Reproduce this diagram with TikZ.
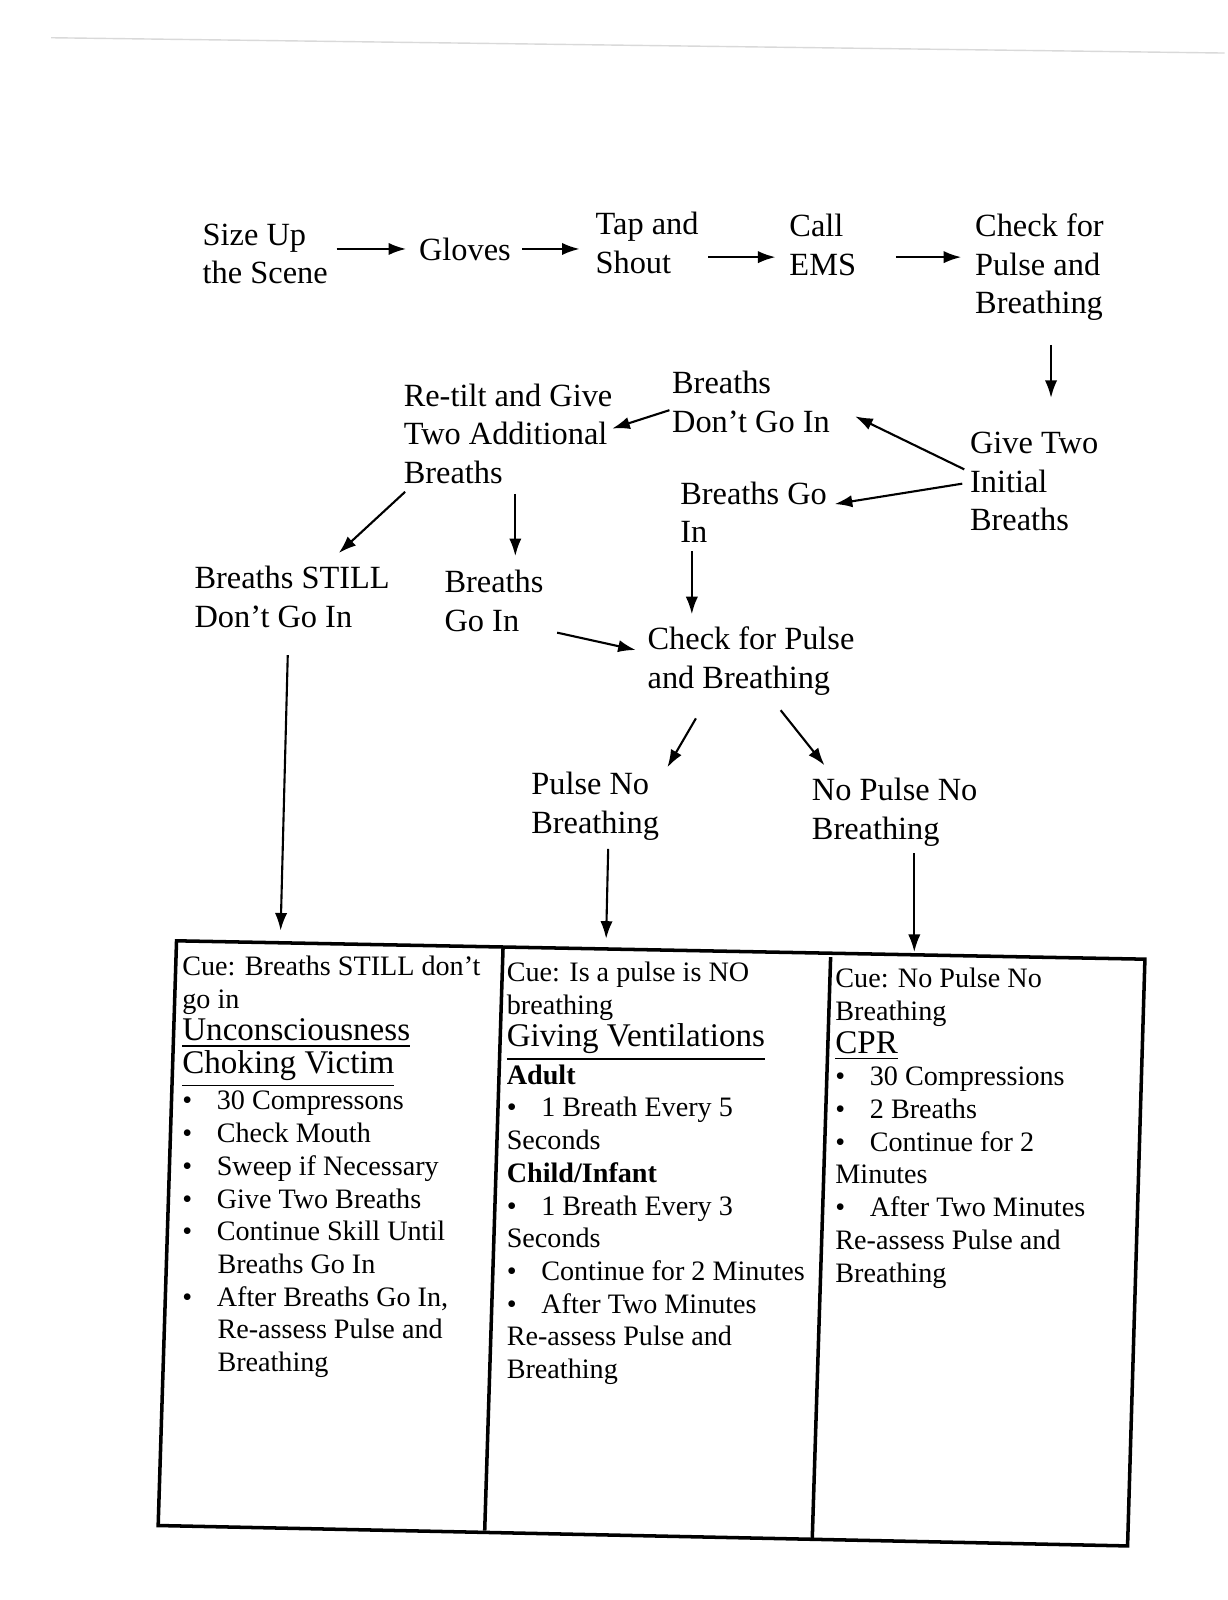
\documentclass[tikz,border=0pt]{standalone}
\usepackage{fontspec}
\setmainfont{Liberation Serif}
\usetikzlibrary{arrows.meta}
\newcommand\hd[1]{\fontsize{9.4pt}{11.6pt}\selectfont\underline{#1}\fontsize{8pt}{9.3pt}\selectfont}
\newcommand\bl{\textbullet\hspace{7pt}}
\newcommand\ind{\hspace*{10pt}}
\begin{document}
\begin{tikzpicture}[x=0.0102cm,y=-0.0102cm,
 lbl/.style={anchor=west,align=left,inner sep=0pt,font=\fontsize{9.2pt}{10.9pt}\selectfont},
 box/.style={anchor=north west,align=left,inner sep=0pt,font=\fontsize{8pt}{9.3pt}\selectfont},
 ar/.style={-{Latex[length=5pt,width=3.5pt]},line width=0.6pt}]
\useasboundingbox (0,0) rectangle (1203,1568);
\draw[black!15] (50,37) -- (1200,52);
\node[lbl] (a) at (198,249) {Size Up\\the Scene};
\node[lbl] (b) at (410,244) {Gloves};
\node[lbl] (c) at (583,238) {Tap and\\Shout};
\node[lbl] (d) at (773,240) {Call\\EMS};
\node[lbl] (e) at (955,262) {Check for\\Pulse and\\Breathing};
\node[lbl] (f) at (950,472) {Give Two\\Initial\\Breaths};
\node[lbl] (g) at (658,394) {Breaths\\Don’t Go In};
\node[lbl] (h) at (395,425) {Re-tilt and Give\\Two Additional\\Breaths};
\node[lbl] (i) at (666,502) {Breaths Go\\In};
\node[lbl] (j) at (190,585) {Breaths STILL\\Don’t Go In};
\node[lbl] (k) at (435,589) {Breaths\\Go In};
\node[lbl] (l) at (634,648) {Check for Pulse\\and Breathing};
\node[lbl] (m) at (520,790) {Pulse No\\Breathing};
\node[lbl] (n) at (795,796) {No Pulse No\\Breathing};
\coordinate (a1) at (330,244); \coordinate (a2) at (398,244);
\coordinate (b1) at (512,244); \coordinate (b2) at (568,244);
\coordinate (c1) at (694,252); \coordinate (c2) at (760,252);
\coordinate (d1) at (878,252); \coordinate (d2) at (942,252);
\coordinate (e1) at (1030,338); \coordinate (e2) at (1030,390);
\coordinate (f1) at (945,460); \coordinate (f2) at (838,408);
\coordinate (f3) at (943,474); \coordinate (f4) at (818,494);
\coordinate (g1) at (656,402); \coordinate (g2) at (600,420);
\coordinate (h1) at (397,482); \coordinate (h2) at (332,542);
\coordinate (h3) at (505,484); \coordinate (h4) at (505,545);
\coordinate (i1) at (678,540); \coordinate (i2) at (678,602);
\coordinate (k1) at (546,620); \coordinate (k2) at (623,637);
\coordinate (l1) at (682,704); \coordinate (l2) at (654,752);
\coordinate (l3) at (765,696); \coordinate (l4) at (808,750);
\coordinate (j1) at (282,642); \coordinate (j2) at (275,912);
\coordinate (m1) at (596,832); \coordinate (m2) at (594,920);
\coordinate (n1) at (896,836); \coordinate (n2) at (896,933);
\foreach \s/\t in {a1/a2,b1/b2,c1/c2,d1/d2,e1/e2,f1/f2,f3/f4,g1/g2,h1/h2,h3/h4,i1/i2,k1/k2,l1/l2,l3/l4,j1/j2,m1/m2,n1/n2}
  \draw[ar] (\s) -- (\t);
\coordinate (p1) at (173,922); \coordinate (p2) at (1122,940);
\coordinate (p3) at (1105,1515); \coordinate (p4) at (155,1495);
\draw[line width=1pt] (p1) -- (p2) -- (p3) -- (p4) -- cycle;
\coordinate (q1) at (493,928); \coordinate (q2) at (475,1500);
\coordinate (r1) at (814,938); \coordinate (r2) at (796,1508);
\draw[line width=1pt] (q1) -- (q2) (r1) -- (r2);
\node[box] (t1) at (178,936) {Cue: Breaths STILL don’t\\go in\\
\hd{Unconsciousness}\\ \hd{Choking Victim}\\
\bl 30 Compressons\\ \bl Check Mouth\\ \bl Sweep if Necessary\\ \bl Give Two Breaths\\
\bl Continue Skill Until\\ \ind Breaths Go In\\ \bl After Breaths Go In,\\
\ind Re-assess Pulse and\\ \ind Breathing};
\node[box] (t2) at (496,942) {Cue: Is a pulse is NO\\breathing\\
\hd{Giving Ventilations}\\
\textbf{Adult}\\ \bl 1 Breath Every 5\\Seconds\\ \textbf{Child/Infant}\\
\bl 1 Breath Every 3\\Seconds\\ \bl Continue for 2 Minutes\\ \bl After Two Minutes\\
Re-assess Pulse and\\Breathing};
\node[box] (t3) at (818,948) {Cue: No Pulse No\\Breathing\\
\hd{CPR}\\
\bl 30 Compressions\\ \bl 2 Breaths\\ \bl Continue for 2\\Minutes\\ \bl After Two Minutes\\
Re-assess Pulse and\\Breathing};
\end{tikzpicture}
\end{document}
